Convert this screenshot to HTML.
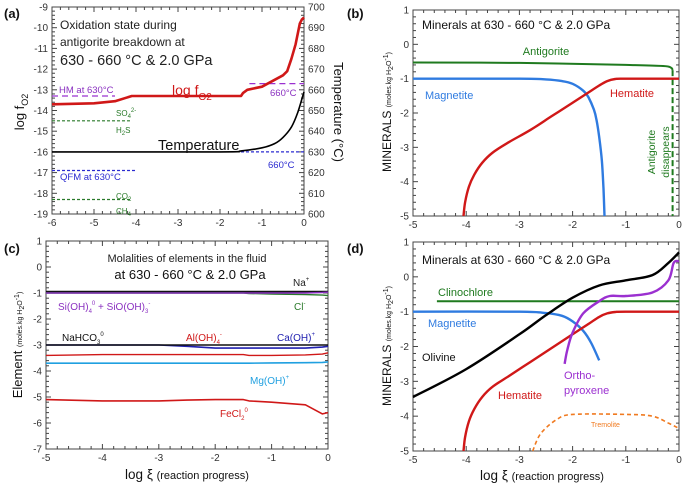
<!DOCTYPE html>
<html><head><meta charset="utf-8"><style>
body{margin:0;background:#fff}
svg{display:block;font-family:"Liberation Sans",sans-serif}
</style></head><body>
<svg id="fig" width="685" height="488" viewBox="0 0 685 488"></svg>
<script>
// ---------- DATA ----------
const aFo2X=[-6,-5,-4.5,-4.1,-3,-1.5,-1.45,-1.35,-1,-0.5,-0.4,-0.3,-0.2,-0.1,-0.05,0];
const aFo2Y=[-13.7,-13.65,-13.55,-13.3,-13.3,-13.3,-13.15,-13,-12.85,-12.3,-12.1,-11.5,-10.8,-9.8,-9.6,-9.5];
const aTempX=[-6,-2,-1.5,-1,-0.7,-0.5,-0.3,-0.15,0];
const aTempY=[630,630,630.5,632,634,637,642,649,659];
const bAntX=[-5,-3,-1,-0.3,-0.15,-0.12];
const bAntY=[-0.53,-0.54,-0.6,-0.63,-0.68,-0.75];
const bMagX=[-5,-3,-2.5,-2.2,-2,-1.8,-1.7,-1.6,-1.55,-1.5,-1.45,-1.42,-1.4];
const bMagY=[-1,-1,-1.02,-1.07,-1.15,-1.35,-1.55,-1.9,-2.2,-2.7,-3.4,-4.2,-5];
const bHemX=[-4.05,-4.02,-3.95,-3.85,-3.7,-3.5,-3.2,-2.8,-2.4,-2,-1.7,-1.5,-1.35,-1.2,-1,0];
const bHemY=[-5,-4.6,-4.15,-3.8,-3.45,-3.15,-2.85,-2.5,-2.1,-1.7,-1.4,-1.2,-1.07,-1.01,-1,-1];
const cX=[-5,-4,-3,-2.5,-2,-1.5,-1.4,-1,-0.4,-0.1,0];
const cNa=[-0.95,-0.95,-0.95,-0.95,-0.95,-0.95,-0.95,-0.95,-0.95,-0.95,-0.95];
const cSi=[-1.0,-1.0,-1.0,-1.0,-1.0,-1.0,-1.0,-1.0,-1.0,-0.98,-0.97];
const cCl=[-1.0,-1.0,-1.0,-1.0,-1.0,-1.0,-1.02,-1.04,-1.06,-1.08,-1.1];
const cNaHCO3=[-3.0,-3.0,-3.0,-3.0,-3.0,-3.0,-3.0,-3.0,-3.0,-3.0,-3.0];
const cCaOH=[-3.0,-3.0,-3.0,-3.05,-3.12,-3.12,-3.12,-3.12,-3.12,-3.08,-3.05];
const cAlOH=[-3.4,-3.37,-3.37,-3.37,-3.37,-3.37,-3.4,-3.4,-3.38,-3.35,-3.3];
const cMgOH=[-3.7,-3.7,-3.7,-3.7,-3.7,-3.7,-3.7,-3.69,-3.68,-3.67,-3.65];
const cFeCl=[-5.1,-5.15,-5.15,-5.12,-5.1,-5.1,-5.15,-5.2,-5.3,-5.65,-5.6];
const dOlX=[-5,-4,-3,-2.5,-2,-1.5,-1,-0.5,-0.2,0];
const dOlY=[-3.45,-2.65,-1.65,-1.1,-0.6,-0.25,-0.1,0.05,0.4,0.7];
const dMagX=[-5,-3,-2.5,-2.2,-2,-1.8,-1.65,-1.5];
const dMagY=[-1,-1,-1.04,-1.12,-1.28,-1.55,-1.9,-2.4];
const dHemX=[-4.05,-4.02,-3.95,-3.85,-3.7,-3.5,-3.2,-2.8,-2.4,-2,-1.7,-1.5,-1.35,-1.2,-1,0];
const dHemY=[-5,-4.6,-4.15,-3.8,-3.45,-3.15,-2.85,-2.45,-2.05,-1.65,-1.35,-1.15,-1.05,-1.01,-1,-1];
const dOpxX=[-2.15,-2.1,-2,-1.8,-1.5,-1.3,-1,-0.5,-0.2,-0.1,0];
const dOpxY=[-2.5,-2.1,-1.6,-1.05,-0.7,-0.55,-0.55,-0.45,-0.1,0.4,0.45];
const dTreX=[-2.75,-2.6,-2.3,-2,-1,-0.5,-0.2,0];
const dTreY=[-5,-4.5,-4.1,-3.95,-3.95,-4,-4.2,-4.35];

// ---------- HELPERS ----------
const S=document.getElementById('fig');const NS='http://www.w3.org/2000/svg';
function el(t,a,p){const e=document.createElementNS(NS,t);for(const k in a)e.setAttribute(k,a[k]);(p||S).appendChild(e);return e;}
function txt(x,y,s,o,p){o=o||{};const e=el('text',Object.assign({x:x,y:y,'font-size':o.fs||10,fill:o.fill||'#222','text-anchor':o.anchor||'start'},o.rot?{transform:`rotate(${o.rot} ${x} ${y})`}:{}),p);e.innerHTML=s;return e;}
function panel(name,x0,x1,y0,y1,xmin,xmax,ymin,ymax,xstep,ystep,xminor,yminor,rightTicks){
  const g=el('g',{});
  
  
  const sx=v=>x0+(v-xmin)/(xmax-xmin)*(x1-x0);
  const sy=v=>y1-(v-ymin)/(ymax-ymin)*(y1-y0);
  el('rect',{x:x0,y:y0,width:x1-x0,height:y1-y0,fill:'none',stroke:'#444','stroke-width':1},g);
  for(let v=xmin;v<=xmax+1e-9;v+=xminor){const X=sx(v);const maj=Math.abs(v/xstep-Math.round(v/xstep))<1e-6;const L=maj?5:3;
    el('line',{x1:X,x2:X,y1:y1,y2:y1-L,stroke:'#444'},g);el('line',{x1:X,x2:X,y1:y0,y2:y0+L,stroke:'#444'},g);
    if(maj)txt(X,y1+12,String(Math.round(v)),{anchor:'middle',fs:10,fill:'#333'},g);}
  for(let v=ymin;v<=ymax+1e-9;v+=yminor){const Y=sy(v);const maj=Math.abs(v/ystep-Math.round(v/ystep))<1e-6;const L=maj?5:3;
    el('line',{x1:x0,x2:x0+L,y1:Y,y2:Y,stroke:'#444'},g);if(rightTicks!==false)el('line',{x1:x1,x2:x1-L,y1:Y,y2:Y,stroke:'#444'},g);
    if(maj)txt(x0-4,Y+3.5,String(Math.round(v)),{anchor:'end',fs:10,fill:'#333'},g);}
  return {g,sx,sy};
}
function line(P,xs,ys,color,w,name,dash,syf,smooth){const sy=syf||P.sy;
  const pts=xs.map((x,i)=>[P.sx(x),sy(ys[i])]);
  let d='M'+pts[0][0].toFixed(1)+' '+pts[0][1].toFixed(1);
  for(let i=1;i<pts.length;i++){
    if(smooth){const p0=pts[Math.max(0,i-2)],p1=pts[i-1],p2=pts[i],p3=pts[Math.min(pts.length-1,i+1)];
      const c1=[p1[0]+(p2[0]-p0[0])/6,p1[1]+(p2[1]-p0[1])/6],c2=[p2[0]-(p3[0]-p1[0])/6,p2[1]-(p3[1]-p1[1])/6];
      d+=`C${c1[0].toFixed(1)} ${c1[1].toFixed(1)} ${c2[0].toFixed(1)} ${c2[1].toFixed(1)} ${p2[0].toFixed(1)} ${p2[1].toFixed(1)}`;}
    else d+='L'+pts[i][0].toFixed(1)+' '+pts[i][1].toFixed(1);}
  const e=el('path',Object.assign({d:d,fill:'none',stroke:color,'stroke-width':w,'stroke-linejoin':'round','stroke-linecap':'butt'},dash?{'stroke-dasharray':dash}:{}),P.g);
  
  return e;}

// ---------- PANEL A ----------
const A=panel('panel-a',52,304,7,214,-6,0,-19,-9,1,1,0.2,0.2,false);
const syT=v=>214-(v-600)/100*207;
for(let v=600;v<=700;v+=2){const Y=syT(v);const maj=v%10===0;el('line',{x1:304,x2:maj?299:301,y1:Y,y2:Y,stroke:'#444'},A.g);if(maj)txt(308,Y+3.5,String(v),{fs:10,fill:'#333'},A.g);}
line(A,[-6,-4.5],[-13.3,-13.3],'#9b30d0',1.3,'hm-630-line','6,4');
line(A,[-1.3,0],[-12.7,-12.7],'#9b30d0',1.3,'hm-660-line','6,4');
line(A,[-6,-4.1],[-14.5,-14.5],'#2a7a2a',1.2,'so4-h2s-line','3,2');
line(A,[-6,-4.1],[-18.3,-18.3],'#2a7a2a',1.2,'co2-ch4-line','3,2');
line(A,[-6,-4],[-16.9,-16.9],'#2b2bd0',1.3,'qfm-630-line','3,2');
line(A,[-1.5,0],[-16,-16],'#2b2bd0',1.3,'qfm-660-line','3,2');
line(A,aTempX,aTempY,'#000',1.6,'temperature-line',null,syT,true);
line(A,aFo2X,aFo2Y,'#d01818',2.6,'log-fo2-line');
txt(60,29,'Oxidation state during',{fs:12});txt(60,46,'antigorite breakdown at',{fs:12});txt(60,65,'630 - 660 °C &amp; 2.0 GPa',{fs:14.5});
txt(172,95,'log f<tspan font-size="10" dy="5">O2</tspan>',{fs:14,fill:'#d01818'});
txt(59,93,'HM at 630°C',{fs:9.5,fill:'#8a30c0'});txt(270,96,'660°C',{fs:9.5,fill:'#8a30c0'});
txt(116,116,'SO<tspan font-size="6" dy="2">4</tspan><tspan font-size="6" dy="-6">2-</tspan>',{fs:8,fill:'#2a7a2a'});
txt(116,133,'H<tspan font-size="6" dy="2">2</tspan><tspan dy="-2">S</tspan>',{fs:8,fill:'#2a7a2a'});
txt(158,150,'Temperature',{fs:14.5,fill:'#111'});
txt(268,168,'660°C',{fs:9.5,fill:'#2b2bd0'});txt(60,180,'QFM at 630°C',{fs:9.5,fill:'#2b2bd0'});
txt(116,199,'CO<tspan font-size="6" dy="2">2</tspan>',{fs:8,fill:'#2a7a2a'});txt(116,214,'CH<tspan font-size="6" dy="2">4</tspan>',{fs:8,fill:'#2a7a2a'});
txt(4,18,'(a)',{fs:13,fill:'#111'}).setAttribute('font-weight','bold');
txt(24,112,'log f<tspan font-size="9" dy="4">O2</tspan>',{fs:13,anchor:'middle',rot:-90,fill:'#111'});
txt(334,112,'Temperature (°C)',{fs:13,anchor:'middle',rot:90,fill:'#111'});

// ---------- PANEL B ----------
const B=panel('panel-b',413,679,10,216,-5,0,-5,1,1,1,0.2,0.2);
line(B,bAntX,bAntY,'#1f7a1f',2,'antigorite-line',null,null,true);
line(B,[-0.12,-0.12],[-0.75,-5],'#1f7a1f',2,'antigorite-disappears-line','6,3');
line(B,bMagX,bMagY,'#2f7be0',2.4,'magnetite-line',null,null,true);
line(B,bHemX,bHemY,'#d01818',2.4,'hematite-line',null,null,true);
txt(422,29,'Minerals at 630 - 660 °C &amp; 2.0 GPa',{fs:12,fill:'#111'});
txt(546,55,'Antigorite',{fs:11,fill:'#1f7a1f',anchor:'middle'});
txt(425,99,'Magnetite',{fs:11,fill:'#2f7be0'});
txt(632,97,'Hematite',{fs:11,fill:'#d01818',anchor:'middle'});
txt(655,152,'Antigorite',{fs:10.5,fill:'#1f7a1f',anchor:'middle',rot:-90});
txt(669,152,'disappears',{fs:10.5,fill:'#1f7a1f',anchor:'middle',rot:-90});
txt(347,18,'(b)',{fs:13,fill:'#111'}).setAttribute('font-weight','bold');
txt(391,112,'MINERALS <tspan font-size="7">(moles.kg H<tspan dy="2">2</tspan><tspan dy="-2">O</tspan><tspan dy="-3">-1</tspan><tspan dy="3">)</tspan></tspan>',{fs:12,anchor:'middle',rot:-90,fill:'#111'});

// ---------- PANEL C ----------
const C=panel('panel-c',46,328,241,449,-5,0,-7,1,1,1,0.2,0.2);
line(C,cX,cNa,'#111',1.8,'na-line');
line(C,cX,cCl,'#2a7a2a',1.4,'cl-line');
line(C,cX,cSi,'#8a30c0',1.4,'sioh4-line');
line(C,cX,cCaOH,'#2020b0',1.6,'caoh-line');
line(C,cX,cNaHCO3,'#111',1.4,'nahco3-line');
line(C,cX,cAlOH,'#d01818',1.4,'aloh4-line');
line(C,cX,cMgOH,'#20a0e0',1.6,'mgoh-line');
line(C,cX,cFeCl,'#d01818',1.6,'fecl2-line');
txt(187,262,'Molalities of elements in the fluid',{fs:11,anchor:'middle'});
txt(190,279,'at 630 - 660 °C &amp; 2.0 GPa',{fs:13,anchor:'middle',fill:'#111'});
txt(293,286,'Na<tspan font-size="6" dy="-5">+</tspan>',{fs:10});
txt(58,310,'Si(OH)<tspan font-size="6" dy="3">4</tspan><tspan font-size="6" dy="-8">0</tspan><tspan dy="5">  +  SiO(OH)</tspan><tspan font-size="6" dy="3">3</tspan><tspan font-size="6" dy="-8">-</tspan>',{fs:10,fill:'#8a30c0'});
txt(294,310,'Cl<tspan font-size="6" dy="-5">-</tspan>',{fs:10,fill:'#2a7a2a'});
txt(62,341,'NaHCO<tspan font-size="6" dy="3">3</tspan><tspan font-size="6" dy="-8">0</tspan>',{fs:10,fill:'#111'});
txt(186,341,'Al(OH)<tspan font-size="6" dy="3">4</tspan><tspan font-size="6" dy="-8">-</tspan>',{fs:10,fill:'#d01818'});
txt(277,341,'Ca(OH)<tspan font-size="6" dy="-5">+</tspan>',{fs:10,fill:'#2020b0'});
txt(250,384,'Mg(OH)<tspan font-size="6" dy="-5">+</tspan>',{fs:10,fill:'#20a0e0'});
txt(220,417,'FeCl<tspan font-size="6" dy="3">2</tspan><tspan font-size="6" dy="-8">0</tspan>',{fs:10,fill:'#d01818'});
txt(4,253,'(c)',{fs:13,fill:'#111'}).setAttribute('font-weight','bold');
txt(22,345,'Element <tspan font-size="7">(moles.kg H<tspan dy="2">2</tspan><tspan dy="-2">O</tspan><tspan dy="-3">-1</tspan><tspan dy="3">)</tspan></tspan>',{fs:13,anchor:'middle',rot:-90,fill:'#111'});
txt(187,479,'log ξ <tspan font-size="11">(reaction progress)</tspan>',{fs:13.5,anchor:'middle',fill:'#111'});

// ---------- PANEL D ----------
const D=panel('panel-d',413,679,242,451,-5,0,-5,1,1,1,0.2,0.2);
line(D,[-4.55,0],[-0.7,-0.7],'#1f7a1f',2,'clinochlore-line');
line(D,dTreX,dTreY,'#f07a20',1.6,'tremolite-line','4,3',null,true);
line(D,dMagX,dMagY,'#2f7be0',2.4,'magnetite-line-d',null,null,true);
line(D,dHemX,dHemY,'#d01818',2.4,'hematite-line-d',null,null,true);
line(D,dOpxX,dOpxY,'#9b30d0',2.4,'orthopyroxene-line',null,null,true);
line(D,dOlX,dOlY,'#000',2.4,'olivine-line',null,null,true);
txt(422,264,'Minerals at 630 - 660 °C &amp; 2.0 GPa',{fs:12,fill:'#111'});
txt(438,296,'Clinochlore',{fs:11,fill:'#1f7a1f'});
txt(428,327,'Magnetite',{fs:11,fill:'#2f7be0'});
txt(422,361,'Olivine',{fs:11,fill:'#111'});
txt(498,399,'Hematite',{fs:11,fill:'#d01818'});
txt(564,379,'Ortho-',{fs:11,fill:'#9b30d0'});
txt(564,394,'pyroxene',{fs:11,fill:'#9b30d0'});
txt(591,427,'Tremolite',{fs:7,fill:'#f07a20'});
txt(347,253,'(d)',{fs:13,fill:'#111'}).setAttribute('font-weight','bold');
txt(391,346,'MINERALS <tspan font-size="7">(moles.kg H<tspan dy="2">2</tspan><tspan dy="-2">O</tspan><tspan dy="-3">-1</tspan><tspan dy="3">)</tspan></tspan>',{fs:12,anchor:'middle',rot:-90,fill:'#111'});
txt(542,480,'log ξ <tspan font-size="11">(reaction progress)</tspan>',{fs:13.5,anchor:'middle',fill:'#111'});
</script>
</body></html>
